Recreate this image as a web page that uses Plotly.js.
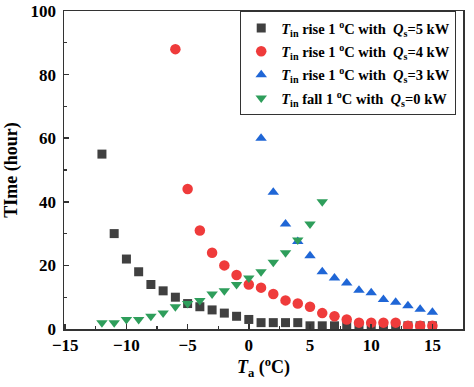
<!DOCTYPE html>
<html><head><meta charset="utf-8">
<script src="https://cdn.plot.ly/plotly-3.0.1.min.js"></script>
<style>html,body{margin:0;padding:0;background:#fff}#c{width:474px;height:387px}</style>
</head><body><div id="c"></div>
<script>
const x5 = [-12,-11,-10,-9,-8,-7,-6,-5,-4,-3,-2,-1,0,1,2,3,4,5,6,7,8,9,10,11,12,13,14,15];
const y5 = [55,30,22,18,14,12,10,8,7,6,5,4,3,2,2,2,2,1,1,1,1,1,1,1,1,1,1,1];
const x4 = [-6,-5,-4,-3,-2,-1,0,1,2,3,4,5,6,7,8,9,10,11,12,13,14,15];
const y4 = [88,44,31,24,20,17,14,13,11,9,8,7,5,4,3,2,2,2,2,1,1,1];
const x3 = [1,2,3,4,5,6,7,8,9,10,11,12,13,14,15];
const y3 = [60,43,33,27.5,23,18,16,14.5,12.2,11.4,9.3,8.4,7.3,6.2,5.3];
const x0 = [-12,-11,-10,-9,-8,-7,-6,-5,-4,-3,-2,-1,0,1,2,3,4,5,6];
const y0 = [2,2,3,3,4,5,7,8,9,11,12,14,16,18,21,24,28,33,40];
const names = [
  "<i>T</i><sub>in</sub> rise 1 <sup>o</sup>C with \u00a0<i>Q</i><sub>s</sub>=5 kW",
  "<i>T</i><sub>in</sub> rise 1 <sup>o</sup>C with \u00a0<i>Q</i><sub>s</sub>=4 kW",
  "<i>T</i><sub>in</sub> rise 1 <sup>o</sup>C with \u00a0<i>Q</i><sub>s</sub>=3 kW",
  "<i>T</i><sub>in</sub> fall 1 <sup>o</sup>C with \u00a0<i>Q</i><sub>s</sub>=0 kW"
];
const F = "Liberation Serif, Times New Roman, serif";
const traces = [
  {x:x5,y:y5,name:names[0],legendgroup:"a",mode:"markers",type:"scatter",marker:{symbol:"square",size:9,color:"#404040"}},
  {x:x4,y:y4,name:names[1],legendgroup:"b",mode:"markers",type:"scatter",marker:{symbol:"circle",size:10.5,color:"#ef3b3b"}},
  {x:x3,y:y3,name:names[2],legendgroup:"c",mode:"markers",type:"scatter",marker:{symbol:"triangle-up",size:10,color:"#1f66d6"}},
  {x:x0,y:y0,name:names[3],legendgroup:"d",mode:"markers",type:"scatter",marker:{symbol:"triangle-down",size:10,color:"#2e9e5b"}}
];
const axisCommon = {
  showgrid:false, zeroline:false, showline:true, linecolor:"#333", linewidth:1.5, mirror:true,
  ticks:"inside", ticklen:5, tickwidth:1.5, tickcolor:"#333",
  tickfont:{family:F,size:17,color:"#000",weight:"bold"}
};
const layout = {
  width:474, height:387,
  margin:{l:64,r:11,t:11,b:58},
  paper_bgcolor:"#fff", plot_bgcolor:"#fff",
  font:{family:F,color:"#000"},
  xaxis:Object.assign({}, axisCommon, {
    range:[-15.1,17.5], tickvals:[-15,-10,-5,0,5,10,15],
    minor:{tickvals:[-12.5,-7.5,-2.5,2.5,7.5,12.5,17.5], ticks:"inside", ticklen:3, tickwidth:1.2, tickcolor:"#333"},
    title:{text:"<b><i>T</i><sub>a</sub> (<sup>o</sup>C)</b>", font:{family:F,size:18,color:"#000"}, standoff:4}
  }),
  yaxis:Object.assign({}, axisCommon, {
    range:[0,100], tickvals:[0,20,40,60,80,100], ticklabelstandoff:3,
    minor:{tickvals:[10,30,50,70,90], ticks:"inside", ticklen:3, tickwidth:1.2, tickcolor:"#333"},
    title:{text:"<b>TIme (hour)</b>", font:{family:F,size:18,color:"#000"}, standoff:8}
  }),
  showlegend:true,
  legend:{x:0.983, y:1.0, xanchor:"right", yanchor:"top",
    traceorder:"grouped", tracegroupgap:1.5,
    bgcolor:"#fff", bordercolor:"#333", borderwidth:1,
    font:{family:F,size:14.5,color:"#000",weight:"bold"}}
};
Plotly.newPlot("c", traces, layout, {displayModeBar:false, staticPlot:true});
</script></body></html>
